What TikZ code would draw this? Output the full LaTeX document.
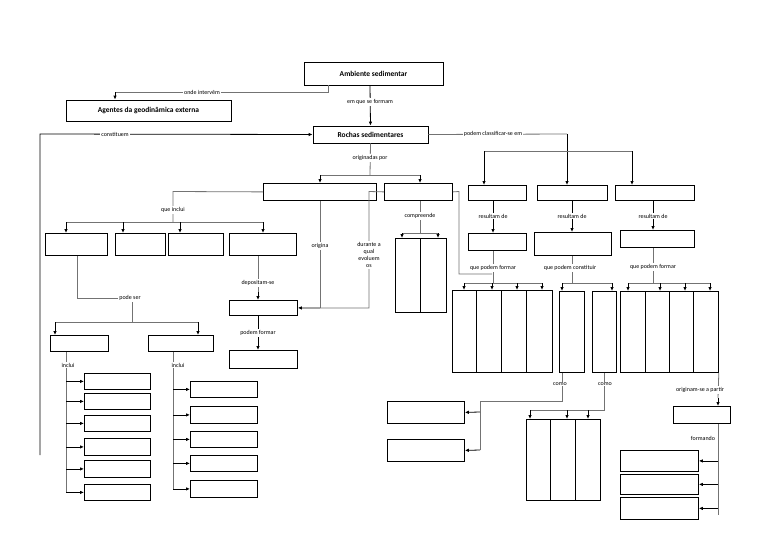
\documentclass[tikz,border=0pt]{standalone}
\usepackage{fontspec}
\setmainfont{Carlito}
\usetikzlibrary{arrows.meta}
\tikzset{
 box/.style={draw,line width=0.8pt,inner sep=0pt,anchor=north west},
 ln/.style={draw=black!55,line width=0.8pt},
 ar/.style={ln,-{Latex[length=4pt,width=3.5pt]},draw=black},
 lb/.style={fill=white,inner sep=1pt,font=\fontsize{6}{7}\selectfont,align=center},
 tt/.style={font=\bfseries\fontsize{7.5}{9}\selectfont}
}
\newcommand\bx[6][]{\node[box,#1,minimum width={(#4-#2)*1pt},minimum height={(#5-#3)*1pt}] (#6) at (#2,#3) {};}
\begin{document}
\begin{tikzpicture}[x=1pt,y=-1pt]
\useasboundingbox[fill=white] (0,0) rectangle (768,543);
% titles
\node[box,tt,minimum width=139pt,minimum height=23pt,anchor=center] (amb) at (373.5,73.5) {Ambiente sedimentar};
\node[box,tt,minimum width=165pt,minimum height=21pt,anchor=center] (age) at (148.5,110.5) {Agentes da geodinâmica externa};
\node[box,tt,minimum width=115pt,minimum height=17pt,anchor=center] (roc) at (370.5,134.5) {Rochas sedimentares};
% level boxes
\bx{263}{183}{376}{200}{A}
\bx{384}{183}{452}{200}{B}
\bx{468}{185}{526}{200}{C1}
\bx{537}{185}{607}{200}{C2}
\bx{615}{185}{694}{200}{C3}
\bx{468}{233}{526}{250}{C1b}
\bx{534}{232}{611}{255}{C2b}
\bx{620}{230}{694}{247}{C3b}
\bx{45}{233}{107}{255}{R1}
\bx{115}{233}{165}{255}{R2}
\bx{168}{233}{223}{255}{R3}
\bx{229}{233}{296}{255}{R4}
\bx{229}{300}{297}{315}{D}
\bx{229}{350}{297}{368}{F}
\bx{395}{238}{420}{312}{T1}\bx{420}{238}{446}{312}{T2}
\bx{452}{290}{476}{372}{G1}\bx{476}{290}{501}{372}{G2}\bx{501}{290}{526}{372}{G3}\bx{526}{290}{552}{372}{G4}
\bx{559}{291}{584}{372}{H1}\bx{592}{291}{616}{372}{H2}
\bx{620}{291}{645}{372}{K1}\bx{645}{291}{669}{372}{K2}\bx{669}{291}{693}{372}{K3}\bx{693}{291}{718}{372}{K4}
\bx{387}{401}{464}{423}{L1}\bx{387}{439}{464}{461}{L2}
\bx{526}{419}{550}{500}{M1}\bx{550}{419}{575}{500}{M2}\bx{575}{419}{600}{500}{M3}
\bx{673}{406}{730}{423}{N}
\bx{620}{450}{698}{471}{P1}\bx{620}{474}{698}{494}{P2}\bx{620}{497}{698}{519}{P3}
\bx{50}{335}{108}{351}{E1}\bx{148}{335}{213}{351}{E2}
\bx{84}{373}{150}{389}{S1}\bx{84}{393}{150}{409}{S2}\bx{84}{415}{150}{431}{S3}
\bx{84}{438}{150}{455}{S4}\bx{84}{460}{150}{477}{S5}\bx{84}{484}{150}{500}{S6}
\bx{190}{381}{257}{397}{U1}\bx{190}{406}{257}{423}{U2}\bx{190}{431}{257}{447}{U3}
\bx{190}{455}{257}{471}{U4}\bx{190}{480}{257}{497}{U5}
% connectors top
\draw[ln] (amb.south -| 328,0) -- (328,92) -- (115,92);
\draw[ar] (115,92) -- (age.north -| 115,0);
\node[lb] at (202,92) {onde intervêm};
\draw[ar] (amb.south -| 370,0) -- (roc.north);
\node[lb] at (370,102) {em que se formam};
\draw[ar] (40,455) -- (40,134) -- (roc.west);
\node[lb] at (115,134) {constituem};
\draw[ln] (roc.east) -- (567,134);
\draw[ar] (567,134) -- (C2.north -| 567,0);
\node[lb] at (493,134) {podem classificar-se em};
\draw[ln] (484,151) -- (632,151);
\draw[ar] (484,151) -- (C1.north -| 484,0);
\draw[ar] (632,151) -- (C3.north -| 632,0);
\draw[ln] (roc.south) -- (370,175);
\node[lb] at (370,158) {originadas por};
\draw[ln] (320,175) -- (420,175);
\draw[ar] (320,175) -- (A.north -| 320,0);
\draw[ar] (420,175) -- (B.north -| 420,0);
% A branch
\draw[ln] (A.west) -- (173,191.5) -- (173,222);
\node[lb] at (173,210) {que inclui};
\draw[ln] (66,222) -- (263,222);
\foreach \x/\n in {66/R1,123/R2,180/R3,263/R4} \draw[ar] (\x,222) -- (\n.north -| \x,0);
\draw[ln] (A.south -| 320,0) -- (320,308);
\draw[ar] (320,308) -- (D.east);
\node[lb] at (320,246) {origina};
\draw[ln] (B.west) -- (369,191.5) -- (369,308) -- (320,308);
\node[lb] at (369,255) {durante a\\qual\\evoluem\\os};
\draw[ln] (R4.south -| 258,0) -- (258,292);
\draw[ar] (258,292) -- (D.north -| 258,0);
\node[lb] at (258,283) {depositam-se};
\draw[ar] (D.south -| 258,0) -- (F.north -| 258,0);
\node[lb] at (258,333) {podem formar};
% R1 pode ser
\draw[ln] (R1.south -| 77,0) -- (77,298) -- (132,298) -- (132,322);
\node[lb] at (130,298) {pode ser};
\draw[ln] (55,322) -- (198,322);
\draw[ar] (55,322) -- (E1.north -| 55,0);
\draw[ar] (198,322) -- (E2.north -| 198,0);
\draw[ln] (E1.south -| 66,0) -- (66,492);
\node[lb] at (68,365) {inclui};
\foreach \n in {S1,S2,S3,S4,S5,S6} \draw[ar] (\n.west -| 66,0) -- (\n.west);
\draw[ln] (E2.south -| 173,0) -- (173,489);
\node[lb] at (178,365) {inclui};
\foreach \n in {U1,U2,U3,U4,U5} \draw[ar] (\n.west -| 173,0) -- (\n.west);
% B compreende
\draw[ln] (B.south -| 420,0) -- (420,233);
\node[lb] at (420,216) {compreende};
\draw[ln] (402,233) -- (438,233);
\draw[ar] (402,233) -- (T1.north -| 402,0);
\draw[ar] (438,233) -- (T2.north -| 438,0);
\draw[ln] (B.east) -- (459,191.5) -- (459,274) -- (492,274);
% C1
\draw[ar] (C1.south -| 493,0) -- (C1b.north -| 493,0);
\node[lb] at (493,216) {resultam de};
\draw[ln] (C1b.south -| 493,0) -- (493,283);
\node[lb] at (493,268) {que podem formar};
\draw[ln] (464,283) -- (542,283);
\foreach \x/\n in {464/G1,492/G2,517/G3,542/G4} \draw[ar] (\x,283) -- (\n.north -| \x,0);
% C2
\draw[ar] (C2.south -| 572,0) -- (C2b.north -| 572,0);
\node[lb] at (572,216) {resultam de};
\draw[ln] (C2b.south -| 572,0) -- (572,283);
\node[lb] at (570,268) {que podem constituir};
\draw[ln] (562,283) -- (612,283);
\draw[ar] (562,283) -- (H1.north -| 562,0);
\draw[ar] (612,283) -- (H2.north -| 612,0);
% C3
\draw[ar] (C3.south -| 653,0) -- (C3b.north -| 653,0);
\node[lb] at (653,216) {resultam de};
\draw[ln] (C3b.south -| 653,0) -- (653,283);
\node[lb] at (653,267) {que podem formar};
\draw[ln] (628,283) -- (710,283);
\foreach \x/\n in {628/K1,660/K2,685/K3,710/K4} \draw[ar] (\x,283) -- (\n.north -| \x,0);
% como
\draw[ln] (H1.south -| 562,0) -- (562,401) -- (480,401) -- (480,450);
\node[lb] at (560,384) {como};
\draw[ar] (480,412) -- (L1.east);
\draw[ar] (480,450) -- (L2.east);
\draw[ln] (H2.south -| 604,0) -- (604,410) -- (530,410);
\node[lb] at (605,384) {como};
\foreach \x/\n in {530/M1,567/M2,588/M3} \draw[ar] (\x,410) -- (\n.north -| \x,0);
% originam-se
\draw[ln] (K4.south east) -- (718,398);
\draw[ar] (718,398) -- (N.north -| 718,0);
\node[lb] at (700,390) {originam-se a partir};
\draw[ln] (N.south -| 718,0) -- (718,515);
\node[lb] at (703,438) {formando};
\foreach \n in {P1,P2,P3} \draw[ar] (\n.east -| 718,0) -- (\n.east);
\end{tikzpicture}
\end{document}
